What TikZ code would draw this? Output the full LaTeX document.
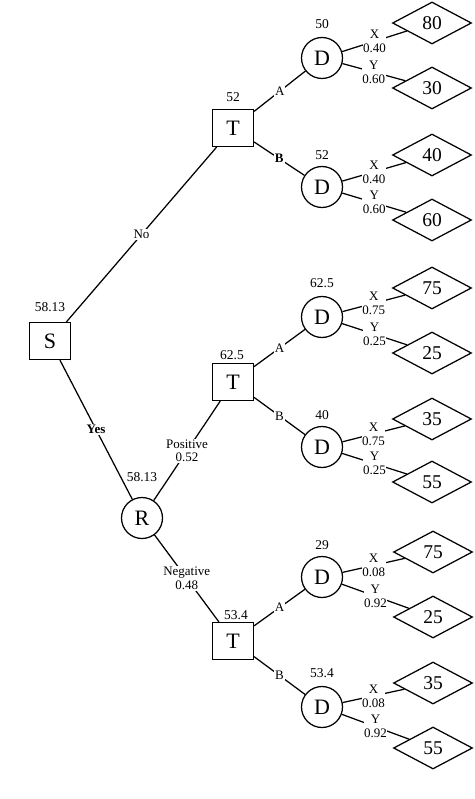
\documentclass[tikz,border=0pt]{standalone}
\usepackage{fontspec}
\setmainfont{Liberation Serif}
\usetikzlibrary{shapes.geometric}
\tikzset{
  decision/.style={draw,rectangle,minimum width=41pt,minimum height=37pt,inner sep=0pt,font=\fontsize{22}{24}\selectfont},
  chance/.style={draw,circle,minimum size=41pt,inner sep=0pt,font=\fontsize{22}{24}\selectfont},
  payoff/.style={draw,diamond,minimum width=79pt,minimum height=42pt,inner sep=0pt,font=\fontsize{19.5}{21}\selectfont},
  value/.style={font=\fontsize{13.5}{14}\selectfont},
  tag/.style={fill=white,inner sep=1pt,font=\fontsize{13}{13.5}\selectfont,align=center}
}
\newcommand{\choice}[4]{\node[decision] (#1) at (#2,#3) {#4};}
\newcommand{\event}[4]{\node[chance] (#1) at (#2,#3) {#4};}
\newcommand{\payoff}[4]{\node[payoff] (#1) at (#2,#3) {#4};}
\newcommand{\val}[4]{\node[value] (#1) at (#2,#3) {#4};}
\newcommand{\branch}[3]{\draw (#1) -- node[tag,midway] {#3} (#2);}
\newcommand{\outcome}[4]{\draw (#1) -- node[tag,midway,inner sep=0.5pt,font=\fontsize{13}{14}\selectfont] {#3\\#4} (#2);}

\begin{document}
\begin{tikzpicture}[x=10pt,y=-10pt,line width=1.25pt]
    \useasboundingbox (0,0) rectangle (47.4,79.9);
    % survey decision
    \choice{S}{5}{34.1}{S} \val{vS}{5}{30.7}{58.13}
    \event{R}{14.2}{51.8}{R} \val{vR}{14.2}{47.7}{58.13}
    \choice{T1}{23.3}{12.8}{T} \val{vT1}{23.3}{9.7}{52}
    \choice{T2}{23.3}{38.2}{T} \val{vT2}{23.2}{35.5}{62.5}
    \choice{T3}{23.3}{64.1}{T} \val{vT3}{23.6}{61.5}{53.4}
    \branch{S}{T1}{No} \branch{S}{R}{\textbf{Yes}}
    \branch{R}{T2}{Positive\\0.52} \branch{R}{T3}{Negative\\0.48}
    % upper test branch
    \event{D1}{32.2}{5.8}{D} \val{vD1}{32.2}{2.4}{50}
    \event{D2}{32.2}{18.7}{D} \val{vD2}{32.2}{15.5}{52}
    \branch{T1}{D1}{A} \branch{T1}{D2}{\textbf{B}}
    \payoff{P1}{43.2}{2.3}{80} \payoff{P2}{43.2}{8.8}{30}
    \payoff{P3}{43.2}{15.5}{40} \payoff{P4}{43.2}{22}{60}
    \outcome{D1}{P1}{X}{0.40} \outcome{D1}{P2}{Y}{0.60}
    \outcome{D2}{P3}{X}{0.40} \outcome{D2}{P4}{Y}{0.60}
    % positive result
    \event{D3}{32.2}{31.7}{D} \val{vD3}{32.2}{28.3}{62.5}
    \event{D4}{32.2}{44.7}{D} \val{vD4}{32.2}{41.5}{40}
    \branch{T2}{D3}{A} \branch{T2}{D4}{B}
    \payoff{P5}{43.2}{28.8}{75} \payoff{P6}{43.2}{35.3}{25}
    \payoff{P7}{43.2}{41.9}{35} \payoff{P8}{43.2}{48.2}{55}
    \outcome{D3}{P5}{X}{0.75} \outcome{D3}{P6}{Y}{0.25}
    \outcome{D4}{P7}{X}{0.75} \outcome{D4}{P8}{Y}{0.25}
    % negative result
    \event{D5}{32.2}{57.7}{D} \val{vD5}{32.2}{54.5}{29}
    \event{D6}{32.2}{70.7}{D} \val{vD6}{32.2}{67.3}{53.4}
    \branch{T3}{D5}{A} \branch{T3}{D6}{B}
    \payoff{P9}{43.3}{55.2}{75} \payoff{P10}{43.3}{61.7}{25}
    \payoff{P11}{43.3}{68.3}{35} \payoff{P12}{43.3}{74.8}{55}
    \outcome{D5}{P9}{X}{0.08} \outcome{D5}{P10}{Y}{0.92}
    \outcome{D6}{P11}{X}{0.08} \outcome{D6}{P12}{Y}{0.92}
\end{tikzpicture}
\end{document}
